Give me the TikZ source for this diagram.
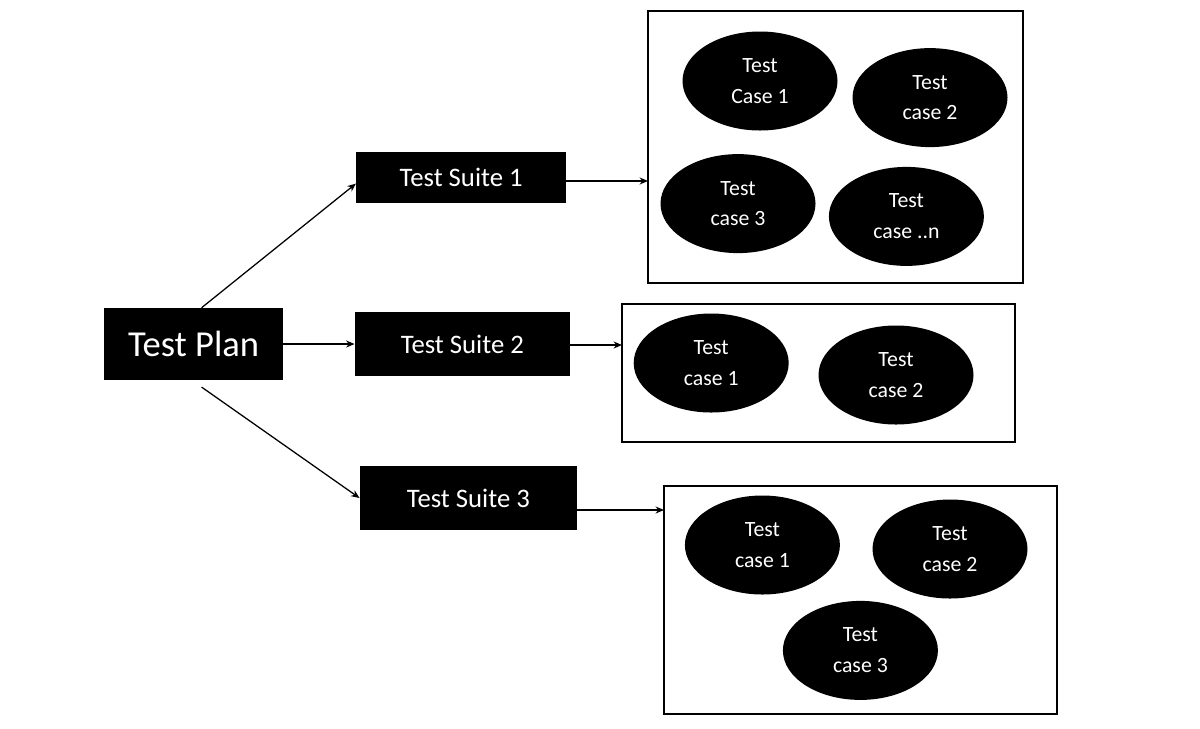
\documentclass[tikz,border=0pt]{standalone}
\usepackage{fontspec}
\setmainfont{Carlito}
\usepackage{tikz}
\usetikzlibrary{arrows.meta, shapes.geometric}

\tikzset{
    planbox/.style={fill=black, text=white, minimum width=4.48cm, minimum height=1.8cm, font=\fontsize{26}{30}\selectfont},
    suitebox/.style={fill=black, text=white, minimum height=1.6cm, font=\fontsize{19}{23}\selectfont},
    groupbox/.style={draw=black, line width=1.8pt, minimum width=9.825cm},
    casenode/.style={ellipse, fill=black, text=white, minimum width=3.875cm, minimum height=2.475cm, inner sep=0pt, align=center, font=\fontsize{15.5}{22}\selectfont},
    arr/.style={-{Stealth[length=6pt,width=5pt]}, line width=0.9pt}
}

\begin{document}
\begin{tikzpicture}
        \useasboundingbox (0,0) rectangle (30,-18.2);

        % Plan und Suiten
        \node[planbox] (plan) at (4.84,-8.6) {Test Plan};
        \node[suitebox, minimum width=5.25cm, minimum height=1.28cm] (s1) at (11.53,-4.44) {Test Suite 1};
        \node[suitebox, minimum width=5.38cm] (s2) at (11.56,-8.6) {Test Suite 2};
        \node[suitebox, minimum width=5.43cm] (s3) at (11.71,-12.45) {Test Suite 3};

        % Rahmen
        \node[groupbox, minimum width=9.375cm, minimum height=6.8cm] (box1) at (20.89,-3.675) {};
        \node[groupbox, minimum height=3.45cm] (box2) at (20.46,-9.325) {};
        \node[groupbox, minimum height=5.7cm] (box3) at (21.51,-15.0) {};

        % Testfaelle
        \node[casenode] (c11) at (19.0,-2.025) {Test\\Case 1};
        \node[casenode] (c12) at (23.25,-2.44) {Test\\case 2};
        \node[casenode] (c13) at (18.45,-5.09) {Test\\case 3};
        \node[casenode] (c1n) at (22.66,-5.41) {Test\\case ..n};

        \node[casenode] (c21) at (17.78,-9.075) {Test\\case 1};
        \node[casenode] (c22) at (22.4,-9.375) {Test\\case 2};

        \node[casenode] (c31) at (19.06,-13.625) {Test\\case 1};
        \node[casenode] (c32) at (23.75,-13.725) {Test\\case 2};
        \node[casenode] (c33) at (21.51,-16.26) {Test\\case 3};

        % Pfeile
        \coordinate (in1) at (16.2,-4.525);
        \coordinate (in2) at (15.55,-8.625);
        \coordinate (in3) at (16.6,-12.75);

        \draw[arr] ([xshift=0.2cm]plan.north) -- ([yshift=-0.15cm]s1.west);
        \draw[arr] (plan.east) -- (s2.west);
        \draw[arr] ([xshift=0.2cm,yshift=-0.17cm]plan.south) -- (s3.west);

        \draw[arr] (s1.east |- in1) -- (in1);
        \draw[arr] (s2.east |- in2) -- (in2);
        \draw[arr] (s3.east |- in3) -- (in3);

    \end{tikzpicture}
\end{document}
